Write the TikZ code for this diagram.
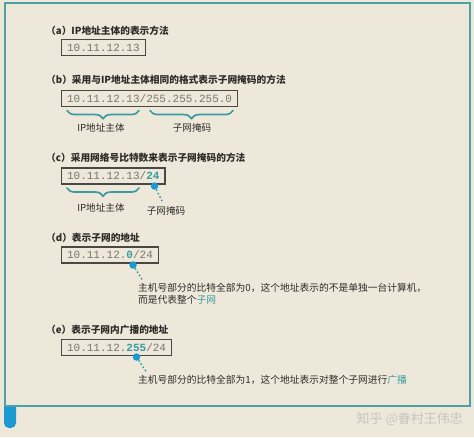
\documentclass[tikz,border=0pt]{standalone}
\usepackage{fontspec}
\setmonofont{Liberation Mono}
\newfontfamily\cjk{Noto Sans CJK SC}
\usetikzlibrary{decorations.pathreplacing}
\definecolor{bg}{HTML}{EEE8DB}
\definecolor{frame}{HTML}{4BA3A3}
\definecolor{tealtxt}{HTML}{3A9CA0}
\definecolor{dotblue}{HTML}{1B9AD2}
\definecolor{numgray}{HTML}{7A7670}
\definecolor{boxgray}{HTML}{4A4744}
\definecolor{txt}{HTML}{2E2B28}
\definecolor{wm}{HTML}{C9C5BD}
\tikzset{
  title/.style={anchor=west,inner sep=0pt,font=\cjk\bfseries\fontsize{9.7}{12}\selectfont,text=txt},
  addr/.style={anchor=west,draw=boxgray,line width=1.1pt,inner xsep=5.5pt,inner ysep=0pt,
    minimum height=16pt,font=\ttfamily\fontsize{11}{12}\selectfont,text=numgray},
  lbl/.style={inner sep=0pt,font=\cjk\fontsize{9.6}{12}\selectfont,text=txt},
  note/.style={anchor=north west,inner sep=0pt,align=left,font=\cjk\fontsize{9.75}{11.5}\selectfont,text=txt},
  brc/.style={draw=tealtxt,line width=1.7pt,line cap=round,decorate,decoration={brace,mirror,amplitude=8pt}},
  dotm/.style={circle,fill=dotblue,inner sep=0pt,minimum size=7.5pt},
  lead/.style={draw=tealtxt,line width=1.5pt,dash pattern=on 1.6pt off 2.2pt}
}
\newcommand{\hlt}[1]{\textcolor{tealtxt}{\bfseries #1}}
\begin{document}
\begin{tikzpicture}[x=1pt,y=-1pt]
\useasboundingbox (0,0) rectangle (474,437);
\fill[bg] (0,0) rectangle (474,437);
% tab
\fill[dotblue,rounded corners=5pt] (4,400) -- (4,428) -- (16,428) -- (16,400) -- cycle;
\fill[dotblue] (4,400) rectangle (16,410);
% frame
\draw[frame,line width=2pt,fill=bg] (5,3) rectangle (470,406);
% watermark
\node[inner sep=0pt,font=\cjk\fontsize{13}{14}\selectfont,text=wm,anchor=east] (wm) at (463,419) {知乎 @眷村王伟忠};

% (a)
\node[title] (ta) at (46,31) {（a）IP地址主体的表示方法};
\node[addr] (ba) at (61,47.5) {10.11.12.13};

% (b)
\node[title] (tb) at (46,80) {（b）采用与IP地址主体相同的格式表示子网掩码的方法};
\node[addr] (bb) at (61,98.5) {10.11.12.13/255.255.255.0};
\coordinate (b1s) at ([xshift=6pt,yshift=-3.5pt]bb.south west);
\coordinate (b1e) at ([xshift=78pt,yshift=-3.5pt]bb.south west);
\coordinate (b2s) at ([xshift=89pt,yshift=-3.5pt]bb.south west);
\coordinate (b2e) at ([xshift=172pt,yshift=-3.5pt]bb.south west);
\draw[brc] (b1s) -- (b1e);
\draw[brc] (b2s) -- (b2e);
\node[lbl] (lb1) at (101,128) {IP地址主体};
\node[lbl] (lb2) at (192,128) {子网掩码};

% (c)
\node[title] (tc) at (46,158) {（c）采用网络号比特数来表示子网掩码的方法};
\node[addr] (bc) at (61,176) {10.11.12.13/\hlt{24}};
\coordinate (c1s) at ([xshift=6pt,yshift=-3.5pt]bc.south west);
\coordinate (c1e) at ([xshift=78pt,yshift=-3.5pt]bc.south west);
\draw[brc] (c1s) -- (c1e);
\node[lbl] (lc1) at (101,208) {IP地址主体};
\node[dotm] (dc) at (154.5,186) {};
\node[lbl] (lc2) at (166,211) {子网掩码};
\coordinate (ec) at (163,203);
\draw[lead] (dc) -- (ec);

% (d)
\node[title] (td) at (46,238) {（d）表示子网的地址};
\node[addr] (bd) at (61,255) {10.11.12.\hlt{0}/24};
\node[dotm] (dd) at (133,265) {};
\coordinate (ed) at (143,281);
\draw[lead] (dd) -- (ed);
\node[note] (nd) at (138,283) {主机号部分的比特全部为0，这个地址表示的不是单独一台计算机，\\而是代表整个\textcolor{tealtxt}{子网}};

% (e)
\node[title] (te) at (46,330) {（e）表示子网内广播的地址};
\node[addr] (be) at (61,347.5) {10.11.12.\hlt{255}/24};
\node[dotm] (de) at (136.5,357) {};
\coordinate (ee) at (147,373);
\draw[lead] (de) -- (ee);
\node[note] (ne) at (138,375) {主机号部分的比特全部为1，这个地址表示对整个子网进行\textcolor{tealtxt}{广播}};
\end{tikzpicture}
\end{document}
